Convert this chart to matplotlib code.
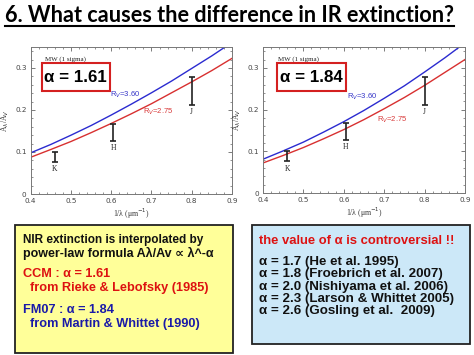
import matplotlib
matplotlib.use("Agg")
import matplotlib.pyplot as plt
from matplotlib.ticker import MultipleLocator
from matplotlib.patches import Rectangle
from matplotlib.lines import Line2D

W, H = 474, 355

# ---- data ----
inv_lam = [0.40, 0.45, 0.50, 0.55, 0.60, 0.65, 0.70, 0.75, 0.80, 0.85, 0.90]
ccm_rv360 = [0.098, 0.118, 0.140, 0.163, 0.188, 0.214, 0.241, 0.269, 0.299, 0.329, 0.361]
ccm_rv275 = [0.0875, 0.106, 0.125, 0.146, 0.168, 0.191, 0.215, 0.241, 0.267, 0.294, 0.323]
fm_rv360 = [0.081, 0.101, 0.122, 0.146, 0.171, 0.198, 0.227, 0.257, 0.290, 0.324, 0.360]
fm_rv275 = [0.072, 0.090, 0.109, 0.130, 0.152, 0.176, 0.202, 0.229, 0.258, 0.289, 0.320]
band_names = ["K", "H", "J"]
band_x = [0.46, 0.605, 0.80]
band_lo = [0.076, 0.127, 0.212]
band_hi = [0.100, 0.167, 0.278]
alphas = ["1.61", "1.84"]

yellow_lines = [
    ("NIR extinction is interpolated by", "#111111"),
    ("power-law formula A\u03bb/Av \u221d \u03bb^-\u03b1", "#111111"),
    ("CCM : \u03b1 = 1.61", "#dd1111"),
    ("  from Rieke & Lebofsky (1985)", "#dd1111"),
    ("FM07 : \u03b1 = 1.84", "#1a1aa8"),
    ("  from Martin & Whittet (1990)", "#1a1aa8"),
]
blue_header = "the value of \u03b1 is controversial !!"
blue_lines = [
    "\u03b1 = 1.7 (He et al. 1995)",
    "\u03b1 = 1.8 (Froebrich et al. 2007)",
    "\u03b1 = 2.0 (Nishiyama et al. 2006)",
    "\u03b1 = 2.3 (Larson & Whittet 2005)",
    "\u03b1 = 2.6 (Gosling et al.  2009)",
]

fig = plt.figure(figsize=(W / 100, H / 100), dpi=100)
fig.patch.set_facecolor("white")

def fx(px):
    return px / W

def fy(py):
    return 1 - py / H

SANS = ["Liberation Sans", "DejaVu Sans"]
SERIF = ["Liberation Serif", "DejaVu Serif"]

# ---- title ----
title = fig.text(fx(5), fy(22.5), "6. What causes the difference in IR extinction?",
                 fontsize=15.6, fontweight="bold", family=["Lato", "DejaVu Sans"],
                 va="baseline", ha="left", color="black")

# ---- plots ----
axes_px = [(30.7, 47, 232, 194), (263, 47, 465, 193)]
curves = [(ccm_rv360, ccm_rv275), (fm_rv360, fm_rv275)]
rv_lab_pos = [((0.597, 0.236), (0.679, 0.196)), ((0.608, 0.231), (0.682, 0.175))]
box_px = [(41.7, 63.3, 110, 91), (277, 62.7, 346, 90.7)]

for i in range(2):
    l, t, r, b = axes_px[i]
    ax = fig.add_axes([fx(l), fy(b), (r - l) / W, (b - t) / H])
    blue, red = curves[i]
    ax.plot(inv_lam, blue, color="#2b2bd0", lw=1.0)
    ax.plot(inv_lam, red, color="#d83030", lw=1.0)
    for name, x, lo, hi in zip(band_names, band_x, band_lo, band_hi):
        ax.errorbar([x], [(lo + hi) / 2], yerr=[(hi - lo) / 2], fmt="none",
                    ecolor="#222222", elinewidth=1.2, capsize=2.5, capthick=1.2)
        ax.text(x, lo - 0.008, name, ha="center", va="top", fontsize=5.5,
                family=SERIF, color="#222222")
    ax.set_xlim(0.4, 0.9)
    ax.set_ylim(0, 0.35)
    ax.xaxis.set_minor_locator(MultipleLocator(0.02))
    ax.yaxis.set_minor_locator(MultipleLocator(0.02))
    ax.set_xticks([0.4, 0.5, 0.6, 0.7, 0.8, 0.9])
    ax.set_xticklabels(["0.4", "0.5", "0.6", "0.7", "0.8", "0.9"])
    ax.set_yticks([0, 0.1, 0.2, 0.3])
    ax.set_yticklabels(["0", "0.1", "0.2", "0.3"])
    ax.tick_params(which="both", direction="in", top=True, right=True,
                   labelsize=5.2, labelcolor="#444444", color="#666666")
    ax.tick_params(axis="x", pad=3)
    ax.tick_params(axis="y", pad=3)
    ax.tick_params(which="major", length=3, width=0.6)
    ax.tick_params(which="minor", length=1.5, width=0.5)
    for s in ax.spines.values():
        s.set_color("#777777")
        s.set_linewidth(0.7)
    ax.set_xlabel("1/\u03bb (\u03bcm$^{-1}$)", fontsize=5.5, family=SERIF,
                  color="#333333", labelpad=2)
    ax.set_ylabel("A$_\\lambda$/A$_V$", fontsize=5.5, family=SERIF,
                  color="#333333", labelpad=3)
    (bx, by), (rx, ry) = rv_lab_pos[i]
    ax.text(bx, by, "R$_V$=3.60", color="#3535c8", fontsize=5.5, family=SANS,
            va="center", ha="left")
    ax.text(rx, ry, "R$_V$=2.75", color="#d83838", fontsize=5.5, family=SANS,
            va="center", ha="left")
    ax.text(0.436, 0.32, "MW (1 sigma)", fontsize=5, family=SERIF,
            color="#222222", va="center", ha="left")
    # alpha box
    bl, bt, br, bb = box_px[i]
    fig.patches.append(Rectangle((fx(bl), fy(bb)), (br - bl) / W, (bb - bt) / H,
                                 transform=fig.transFigure, facecolor="white",
                                 edgecolor="#d42020", linewidth=1.5, zorder=5))
    fig.text(fx((bl + br) / 2), fy((bt + bb) / 2 + 0.5), "\u03b1 = " + alphas[i],
             ha="center", va="center", fontsize=12.2, fontweight="bold",
             family=SANS, color="black", zorder=6)

# ---- text boxes ----
fig.patches.append(Rectangle((fx(15), fy(353)), 218 / W, 128 / H,
                             transform=fig.transFigure, facecolor="#ffff99",
                             edgecolor="#222222", linewidth=1.3))
fig.patches.append(Rectangle((fx(252), fy(344)), 218 / W, 119 / H,
                             transform=fig.transFigure, facecolor="#cce8f8",
                             edgecolor="#222222", linewidth=1.3))

yellow_y = [240, 253, 274, 288, 310, 324]
yellow_fs = [8.5, 9.0, 9.2, 9.2, 9.2, 9.2]
for (txt, col), y, fs in zip(yellow_lines, yellow_y, yellow_fs):
    fig.text(fx(23), fy(y), txt, fontsize=fs, fontweight="bold", family=SANS,
             color=col, va="center", ha="left")

fig.text(fx(259), fy(240.5), blue_header, fontsize=9.4, fontweight="bold",
         family=SANS, color="#dd1111", va="center", ha="left")
blue_y = [262, 274, 287, 299, 311]
for txt, y in zip(blue_lines, blue_y):
    fig.text(fx(259), fy(y), txt, fontsize=9.6, fontweight="bold", family=SANS,
             color="#111111", va="center", ha="left")

# underline for title
fig.canvas.draw()
bb = title.get_window_extent()
fig.add_artist(Line2D([bb.x0 / W, bb.x1 / W], [fy(25.5), fy(25.5)],
                      transform=fig.transFigure, color="black", lw=1.5))

fig.savefig("out.png", dpi=100)
